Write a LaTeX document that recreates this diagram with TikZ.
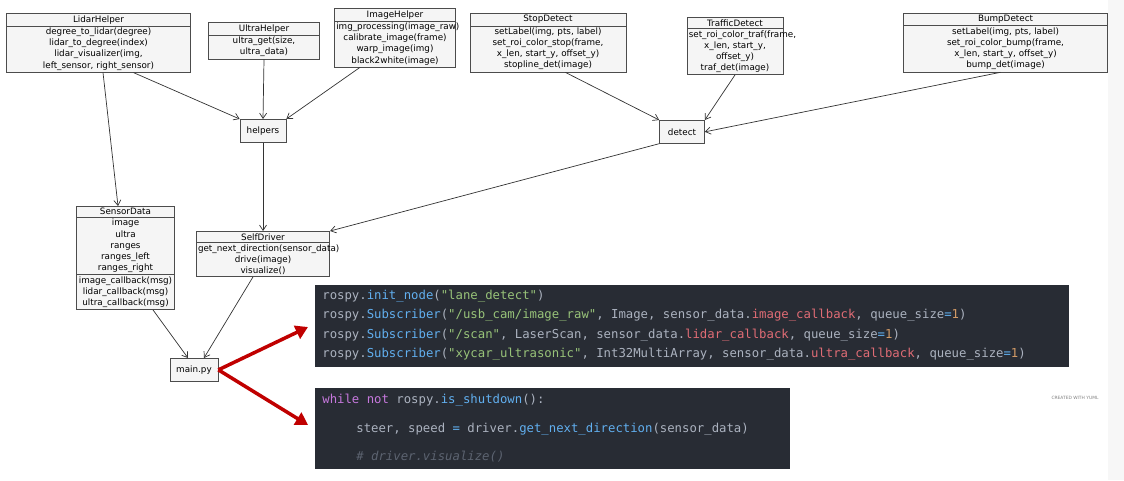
\documentclass[tikz,border=0pt]{standalone}
\usepackage{fontspec}
\setmainfont{DejaVu Sans}
\newfontfamily\codefont{DejaVu Sans Mono}
\usetikzlibrary{shapes.multipart,arrows.meta}
\definecolor{codebg}{HTML}{282C34}
\definecolor{cplain}{HTML}{ABB2BF}
\definecolor{cfun}{HTML}{61AFEF}
\definecolor{cstr}{HTML}{98C379}
\definecolor{cred}{HTML}{E06C75}
\definecolor{cnum}{HTML}{D19A66}
\definecolor{ckey}{HTML}{C678DD}
\definecolor{ccom}{HTML}{5C6370}
\definecolor{arrred}{HTML}{C00000}
\begin{document}
\begin{tikzpicture}[x=0.02cm,y=-0.02cm,
  cls/.style={rectangle split, draw=black!70, fill=gray!8, inner sep=1pt,
    font=\fontsize{5}{6.3}\selectfont, align=center, anchor=north},
  pkg/.style={draw=black!70, fill=gray!8, font=\fontsize{5}{6}\selectfont,
    minimum height=0.46cm, anchor=north},
  dep/.style={draw=black!80, line width=0.4pt, -{Straight Barb[length=3pt,width=4pt]}},
  hl/.style={draw=arrred, line width=2pt, -{Triangle[length=7pt,width=8pt]}},
  code/.style={font=\codefont\fontsize{7}{8}\selectfont, text=cplain, anchor=west, inner sep=0pt}]
\useasboundingbox (0,0) rectangle (1124,480);
\fill[gray!6] (1108,0) rectangle (1124,480);

% class boxes
\node[cls, rectangle split parts=2, text width=3.6cm] (lidar) at (98.5,13)
  {LidarHelper \nodepart{two} degree\_to\_lidar(degree)\\ lidar\_to\_degree(index)\\ lidar\_visualizer(img, left\_sensor, right\_sensor)};
\node[cls, rectangle split parts=2, text width=2.15cm] (ultra) at (264,22)
  {UltraHelper \nodepart{two} ultra\_get(size, ultra\_data)};
\node[cls, rectangle split parts=2, text width=2.35cm] (image) at (395,8)
  {ImageHelper \nodepart{two} img\_processing(image\_raw)\\ calibrate\_image(frame)\\ warp\_image(img)\\ black2white(image)};
\node[cls, rectangle split parts=2, text width=3.05cm] (stop) at (548,13)
  {StopDetect \nodepart{two} setLabel(img, pts, label)\\ set\_roi\_color\_stop(frame, x\_len, start\_y, offset\_y)\\ stopline\_det(image)};
\node[cls, rectangle split parts=2, text width=1.85cm] (traf) at (735,17)
  {TrafficDetect \nodepart{two} set\_roi\_color\_traf(frame, x\_len, start\_y, offset\_y)\\ traf\_det(image)};
\node[cls, rectangle split parts=2, text width=4.0cm] (bump) at (1005.5,13)
  {BumpDetect \nodepart{two} setLabel(img, pts, label)\\ set\_roi\_color\_bump(frame, x\_len, start\_y, offset\_y)\\ bump\_det(image)};
\node[cls, rectangle split parts=3, text width=1.9cm] (sensor) at (125.5,206)
  {SensorData \nodepart{two} image\\ ultra\\ ranges\\ ranges\_left\\ ranges\_right
   \nodepart{three} image\_callback(msg)\\ lidar\_callback(msg)\\ ultra\_callback(msg)};
\node[cls, rectangle split parts=2, text width=2.6cm] (driver) at (263,231)
  {SelfDriver \nodepart{two} get\_next\_direction(sensor\_data)\\ drive(image)\\ visualize()};

\node[pkg, minimum width=0.92cm] (helpers) at (263,119) {helpers};
\node[pkg, minimum width=0.9cm] (detect) at (682,120) {detect};
\node[pkg, minimum width=0.96cm] (main) at (194,358) {main.py};

% dependencies
\draw[dep] (lidar.south -| 103,0) -- (sensor.north -| 118,0);
\draw[dep] ([xshift=0.7cm]lidar.south) -- (helpers.north west);
\draw[dep] (ultra.south) -- (helpers.north);
\draw[dep] ([xshift=-0.7cm]image.south) -- (helpers.north east);
\draw[dep] ([xshift=0.35cm]stop.south) -- (detect.north west);
\draw[dep] (traf.south) -- (detect.north east);
\draw[dep] ([xshift=-0.1cm]bump.south) -- (detect.east);
\draw[dep] (helpers.south) -- (driver.north);
\draw[dep] (detect.south west) -- (driver.north east);
\draw[dep] ([xshift=0.55cm]sensor.south) -- ([xshift=-0.12cm]main.north);
\draw[dep] ([xshift=-0.2cm]driver.south) -- ([xshift=0.2cm]main.north);

% code snippets
\coordinate (c1) at (308,327);
\coordinate (c2) at (308,425);
\draw[hl] (main.east) -- (c1);
\draw[hl] (main.east) -- (c2);

\fill[codebg] (315,285) rectangle (1069,367);
\node[code] (l1) at (322,296) {rospy.\textcolor{cfun}{init\_node}(\textcolor{cstr}{"lane\_detect"})};
\node[code] (l2) at (322,315.5) {rospy.\textcolor{cfun}{Subscriber}(\textcolor{cstr}{"/usb\_cam/image\_raw"}, Image, sensor\_data.\textcolor{cred}{image\_callback}, queue\_size\textcolor{cfun}{=}\textcolor{cnum}{1})};
\node[code] (l3) at (322,335) {rospy.\textcolor{cfun}{Subscriber}(\textcolor{cstr}{"/scan"}, LaserScan, sensor\_data.\textcolor{cred}{lidar\_callback}, queue\_size\textcolor{cfun}{=}\textcolor{cnum}{1})};
\node[code] (l4) at (322,354.5) {rospy.\textcolor{cfun}{Subscriber}(\textcolor{cstr}{"xycar\_ultrasonic"}, Int32MultiArray, sensor\_data.\textcolor{cred}{ultra\_callback}, queue\_size\textcolor{cfun}{=}\textcolor{cnum}{1})};

\fill[codebg] (315,388) rectangle (790,469);
\node[code] (w1) at (322,400) {\textcolor{ckey}{while} \textcolor{ckey}{not} rospy.\textcolor{cfun}{is\_shutdown}():};
\node[code] (w2) at (356,429) {steer, speed \textcolor{cfun}{=} driver.\textcolor{cfun}{get\_next\_direction}(sensor\_data)};
\node[code, text=ccom, font=\codefont\itshape\fontsize{7}{8}\selectfont] (w3) at (356,457) {\# driver.visualize()};

\node[font=\fontsize{2.5}{3}\selectfont, text=gray] (yuml) at (1075,398) {CREATED WITH YUML};
\end{tikzpicture}
\end{document}
